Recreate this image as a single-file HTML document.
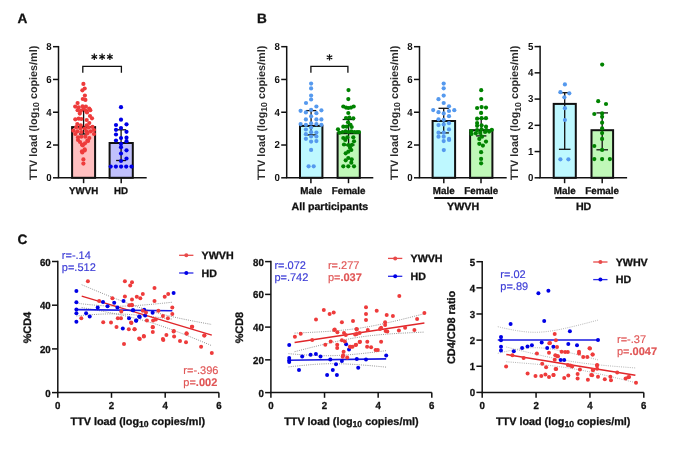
<!DOCTYPE html>
<html><head><meta charset="utf-8"><style>
html,body{margin:0;padding:0;background:#fff;}
svg{display:block;text-rendering:geometricPrecision;filter:blur(0.4px);}
</style></head><body>
<svg width="685" height="450" viewBox="0 0 685 450" font-family='"Liberation Sans", sans-serif'>
<rect width="685" height="450" fill="#fff"/>
<text x="17.4" y="23.2" font-size="13.6" font-weight="bold" text-anchor="start" fill="#111" stroke="#111" stroke-width="0.3" >A</text>
<text x="256.9" y="23.2" font-size="13.6" font-weight="bold" text-anchor="start" fill="#111" stroke="#111" stroke-width="0.3" >B</text>
<text x="17.6" y="244.2" font-size="13.6" font-weight="bold" text-anchor="start" fill="#111" stroke="#111" stroke-width="0.3" >C</text>
<line x1="58.5" y1="45.95" x2="58.5" y2="177.8" stroke="#111" stroke-width="1.5" />
<line x1="53.0" y1="177.8" x2="58.5" y2="177.8" stroke="#111" stroke-width="1.5" />
<text transform="translate(51.70,181.10) scale(0.95,1)" font-size="10.2" font-weight="bold" text-anchor="end" fill="#111">0</text>
<line x1="53.0" y1="145.02" x2="58.5" y2="145.02" stroke="#111" stroke-width="1.5" />
<text transform="translate(51.70,148.32) scale(0.95,1)" font-size="10.2" font-weight="bold" text-anchor="end" fill="#111">2</text>
<line x1="53.0" y1="112.24000000000001" x2="58.5" y2="112.24000000000001" stroke="#111" stroke-width="1.5" />
<text transform="translate(51.70,115.54) scale(0.95,1)" font-size="10.2" font-weight="bold" text-anchor="end" fill="#111">4</text>
<line x1="53.0" y1="79.46000000000001" x2="58.5" y2="79.46000000000001" stroke="#111" stroke-width="1.5" />
<text transform="translate(51.70,82.76) scale(0.95,1)" font-size="10.2" font-weight="bold" text-anchor="end" fill="#111">6</text>
<line x1="53.0" y1="46.68000000000001" x2="58.5" y2="46.68000000000001" stroke="#111" stroke-width="1.5" />
<text transform="translate(51.70,49.98) scale(0.95,1)" font-size="10.2" font-weight="bold" text-anchor="end" fill="#111">8</text>
<line x1="57.75" y1="177.8" x2="146.7" y2="177.8" stroke="#111" stroke-width="1.5" />
<line x1="83.6" y1="177.8" x2="83.6" y2="183.2" stroke="#111" stroke-width="1.5" />
<line x1="121.2" y1="177.8" x2="121.2" y2="183.2" stroke="#111" stroke-width="1.5" />
<rect x="72.1" y="127.1" width="23.0" height="50.70000000000002" fill="#ffbfc0" stroke="#111" stroke-width="2.0"/>
<rect x="109.6" y="143.0" width="23.200000000000017" height="34.80000000000001" fill="#c0c0fc" stroke="#111" stroke-width="2.0"/>
<line x1="83.6" y1="110.5" x2="83.6" y2="134" stroke="#111" stroke-width="1.3" />
<line x1="79.1" y1="110.5" x2="88.1" y2="110.5" stroke="#111" stroke-width="1.3" />
<line x1="79.1" y1="134" x2="88.1" y2="134" stroke="#111" stroke-width="1.3" />
<line x1="121.1" y1="129.8" x2="121.1" y2="160.5" stroke="#111" stroke-width="1.3" />
<line x1="116.1" y1="129.8" x2="126.1" y2="129.8" stroke="#111" stroke-width="1.3" />
<line x1="116.1" y1="160.5" x2="126.1" y2="160.5" stroke="#111" stroke-width="1.3" />
<circle cx="83.4" cy="83.9" r="2.1" fill="#ee3b3b"/>
<circle cx="84.7" cy="88.5" r="2.1" fill="#ee3b3b"/>
<circle cx="82.4" cy="90.3" r="2.1" fill="#ee3b3b"/>
<circle cx="84.9" cy="95.6" r="2.1" fill="#ee3b3b"/>
<circle cx="82.8" cy="99" r="2.1" fill="#ee3b3b"/>
<circle cx="85.4" cy="99.9" r="2.1" fill="#ee3b3b"/>
<circle cx="77.6" cy="103.1" r="2.1" fill="#ee3b3b"/>
<circle cx="75.2" cy="106.6" r="2.1" fill="#ee3b3b"/>
<circle cx="78.7" cy="107.4" r="2.1" fill="#ee3b3b"/>
<circle cx="82.6" cy="106.3" r="2.1" fill="#ee3b3b"/>
<circle cx="85.9" cy="106.7" r="2.1" fill="#ee3b3b"/>
<circle cx="89.2" cy="108.6" r="2.1" fill="#ee3b3b"/>
<circle cx="77.6" cy="110.2" r="2.1" fill="#ee3b3b"/>
<circle cx="80.9" cy="110.8" r="2.1" fill="#ee3b3b"/>
<circle cx="85.9" cy="110.8" r="2.1" fill="#ee3b3b"/>
<circle cx="90.3" cy="110.2" r="2.1" fill="#ee3b3b"/>
<circle cx="79.8" cy="113.6" r="2.1" fill="#ee3b3b"/>
<circle cx="87" cy="112.4" r="2.1" fill="#ee3b3b"/>
<circle cx="83.5" cy="108.6" r="2.1" fill="#ee3b3b"/>
<circle cx="90" cy="116" r="2.1" fill="#ee3b3b"/>
<circle cx="92" cy="118.3" r="2.1" fill="#ee3b3b"/>
<circle cx="75.3" cy="119.3" r="2.1" fill="#ee3b3b"/>
<circle cx="78.7" cy="118.7" r="2.1" fill="#ee3b3b"/>
<circle cx="81.3" cy="119" r="2.1" fill="#ee3b3b"/>
<circle cx="86.7" cy="120" r="2.1" fill="#ee3b3b"/>
<circle cx="77.3" cy="124" r="2.1" fill="#ee3b3b"/>
<circle cx="80.7" cy="125.3" r="2.1" fill="#ee3b3b"/>
<circle cx="89.3" cy="123" r="2.1" fill="#ee3b3b"/>
<circle cx="86.7" cy="125.3" r="2.1" fill="#ee3b3b"/>
<circle cx="88.7" cy="127.3" r="2.1" fill="#ee3b3b"/>
<circle cx="92.5" cy="126.8" r="2.1" fill="#ee3b3b"/>
<circle cx="76.2" cy="127.2" r="2.1" fill="#ee3b3b"/>
<circle cx="80.5" cy="128.2" r="2.1" fill="#ee3b3b"/>
<circle cx="84.8" cy="128.5" r="2.1" fill="#ee3b3b"/>
<circle cx="73.3" cy="130.7" r="2.1" fill="#ee3b3b"/>
<circle cx="77.3" cy="131.3" r="2.1" fill="#ee3b3b"/>
<circle cx="81.3" cy="132" r="2.1" fill="#ee3b3b"/>
<circle cx="86.7" cy="131.3" r="2.1" fill="#ee3b3b"/>
<circle cx="90.7" cy="131.3" r="2.1" fill="#ee3b3b"/>
<circle cx="94" cy="130" r="2.1" fill="#ee3b3b"/>
<circle cx="94" cy="134" r="2.1" fill="#ee3b3b"/>
<circle cx="75.3" cy="134" r="2.1" fill="#ee3b3b"/>
<circle cx="87.3" cy="133.3" r="2.1" fill="#ee3b3b"/>
<circle cx="78" cy="137.3" r="2.1" fill="#ee3b3b"/>
<circle cx="81.3" cy="136.7" r="2.1" fill="#ee3b3b"/>
<circle cx="85.3" cy="136.7" r="2.1" fill="#ee3b3b"/>
<circle cx="89.3" cy="138" r="2.1" fill="#ee3b3b"/>
<circle cx="78" cy="140" r="2.1" fill="#ee3b3b"/>
<circle cx="80" cy="142" r="2.1" fill="#ee3b3b"/>
<circle cx="87.3" cy="140.7" r="2.1" fill="#ee3b3b"/>
<circle cx="82" cy="144.7" r="2.1" fill="#ee3b3b"/>
<circle cx="85" cy="143.3" r="2.1" fill="#ee3b3b"/>
<circle cx="84.7" cy="149.3" r="2.1" fill="#ee3b3b"/>
<circle cx="82" cy="151.3" r="2.1" fill="#ee3b3b"/>
<circle cx="83.4" cy="163.6" r="2.1" fill="#ee3b3b"/>
<circle cx="83.4" cy="159.4" r="2.1" fill="#ee3b3b"/>
<circle cx="82.3" cy="152.4" r="2.1" fill="#ee3b3b"/>
<circle cx="84.7" cy="150.5" r="2.1" fill="#ee3b3b"/>
<circle cx="82.8" cy="145.3" r="2.1" fill="#ee3b3b"/>
<circle cx="88.1" cy="140.9" r="2.1" fill="#ee3b3b"/>
<circle cx="121" cy="107.2" r="2.1" fill="#0000e6"/>
<circle cx="121" cy="119.7" r="2.1" fill="#0000e6"/>
<circle cx="116" cy="125" r="2.1" fill="#0000e6"/>
<circle cx="126.5" cy="124.3" r="2.1" fill="#0000e6"/>
<circle cx="121" cy="128" r="2.1" fill="#0000e6"/>
<circle cx="116" cy="129.8" r="2.1" fill="#0000e6"/>
<circle cx="126.5" cy="131.8" r="2.1" fill="#0000e6"/>
<circle cx="116" cy="134.5" r="2.1" fill="#0000e6"/>
<circle cx="121" cy="138" r="2.1" fill="#0000e6"/>
<circle cx="126.5" cy="137.7" r="2.1" fill="#0000e6"/>
<circle cx="116" cy="140.5" r="2.1" fill="#0000e6"/>
<circle cx="126.5" cy="141.2" r="2.1" fill="#0000e6"/>
<circle cx="121" cy="143.8" r="2.1" fill="#0000e6"/>
<circle cx="121" cy="147.2" r="2.1" fill="#0000e6"/>
<circle cx="126.5" cy="150.3" r="2.1" fill="#0000e6"/>
<circle cx="121" cy="153.5" r="2.1" fill="#0000e6"/>
<circle cx="126.5" cy="158.5" r="2.1" fill="#0000e6"/>
<circle cx="121" cy="161" r="2.1" fill="#0000e6"/>
<circle cx="110.7" cy="166.6" r="2.1" fill="#0000e6"/>
<circle cx="115.9" cy="166.6" r="2.1" fill="#0000e6"/>
<circle cx="121.1" cy="166.6" r="2.1" fill="#0000e6"/>
<circle cx="126.2" cy="166.6" r="2.1" fill="#0000e6"/>
<circle cx="131.5" cy="166.6" r="2.1" fill="#0000e6"/>
<path d="M82.8 72.7 V66.3 H121.4 V72.7" fill="none" stroke="#111" stroke-width="1.3"/>
<path d="M94.3 53.599999999999994V60.0M91.53 55.20L97.07 58.40M91.53 58.40L97.07 55.20" stroke="#111" stroke-width="1.25"/>
<path d="M102.1 53.599999999999994V60.0M99.33 55.20L104.87 58.40M99.33 58.40L104.87 55.20" stroke="#111" stroke-width="1.25"/>
<path d="M109.9 53.599999999999994V60.0M107.13 55.20L112.67 58.40M107.13 58.40L112.67 55.20" stroke="#111" stroke-width="1.25"/>
<text x="83.6" y="194.4" font-size="9.7" font-weight="bold" text-anchor="middle" fill="#111" stroke="#111" stroke-width="0.3" >YWVH</text>
<text x="121.1" y="194.4" font-size="9.7" font-weight="bold" text-anchor="middle" fill="#111" stroke="#111" stroke-width="0.3" >HD</text>
<text transform="translate(36.5,112.9) rotate(-90)" font-size="10.8" font-weight="bold" text-anchor="middle" fill="#2b2b2b">TTV load (log<tspan font-size="8.64" dy="2.4">10</tspan><tspan dy="-2.4"> copies/ml)</tspan></text>
<line x1="286.7" y1="45.95" x2="286.7" y2="177.8" stroke="#111" stroke-width="1.5" />
<line x1="281.2" y1="177.8" x2="286.7" y2="177.8" stroke="#111" stroke-width="1.5" />
<text transform="translate(279.90,181.10) scale(0.95,1)" font-size="10.2" font-weight="bold" text-anchor="end" fill="#111">0</text>
<line x1="281.2" y1="145.02" x2="286.7" y2="145.02" stroke="#111" stroke-width="1.5" />
<text transform="translate(279.90,148.32) scale(0.95,1)" font-size="10.2" font-weight="bold" text-anchor="end" fill="#111">2</text>
<line x1="281.2" y1="112.24000000000001" x2="286.7" y2="112.24000000000001" stroke="#111" stroke-width="1.5" />
<text transform="translate(279.90,115.54) scale(0.95,1)" font-size="10.2" font-weight="bold" text-anchor="end" fill="#111">4</text>
<line x1="281.2" y1="79.46000000000001" x2="286.7" y2="79.46000000000001" stroke="#111" stroke-width="1.5" />
<text transform="translate(279.90,82.76) scale(0.95,1)" font-size="10.2" font-weight="bold" text-anchor="end" fill="#111">6</text>
<line x1="281.2" y1="46.68000000000001" x2="286.7" y2="46.68000000000001" stroke="#111" stroke-width="1.5" />
<text transform="translate(279.90,49.98) scale(0.95,1)" font-size="10.2" font-weight="bold" text-anchor="end" fill="#111">8</text>
<line x1="285.95" y1="177.8" x2="373.3" y2="177.8" stroke="#111" stroke-width="1.5" />
<line x1="310.9" y1="177.8" x2="310.9" y2="183.2" stroke="#111" stroke-width="1.5" />
<line x1="348.5" y1="177.8" x2="348.5" y2="183.2" stroke="#111" stroke-width="1.5" />
<rect x="300.0" y="125.9" width="22.399999999999977" height="51.900000000000006" fill="#bef8ff" stroke="#111" stroke-width="2.0"/>
<rect x="337.6" y="133.2" width="22.19999999999999" height="44.60000000000002" fill="#c0f8b8" stroke="#111" stroke-width="2.0"/>
<line x1="311.1" y1="110.6" x2="311.1" y2="134.9" stroke="#111" stroke-width="1.3" />
<line x1="305.90000000000003" y1="110.6" x2="316.3" y2="110.6" stroke="#111" stroke-width="1.3" />
<line x1="305.90000000000003" y1="134.9" x2="316.3" y2="134.9" stroke="#111" stroke-width="1.3" />
<line x1="348.6" y1="119.5" x2="348.6" y2="145" stroke="#111" stroke-width="1.3" />
<line x1="342.6" y1="119.5" x2="354.6" y2="119.5" stroke="#111" stroke-width="1.3" />
<line x1="342.6" y1="145" x2="354.6" y2="145" stroke="#111" stroke-width="1.3" />
<circle cx="311.1" cy="83.6" r="2.1" fill="#5599ee"/>
<circle cx="311.1" cy="88.4" r="2.1" fill="#5599ee"/>
<circle cx="311.1" cy="95.6" r="2.1" fill="#5599ee"/>
<circle cx="311.1" cy="99.5" r="2.1" fill="#5599ee"/>
<circle cx="306" cy="103" r="2.1" fill="#5599ee"/>
<circle cx="316.4" cy="106.5" r="2.1" fill="#5599ee"/>
<circle cx="300.6" cy="110.8" r="2.1" fill="#5599ee"/>
<circle cx="311.1" cy="109.8" r="2.1" fill="#5599ee"/>
<circle cx="321.4" cy="110.3" r="2.1" fill="#5599ee"/>
<circle cx="305.9" cy="112.4" r="2.1" fill="#5599ee"/>
<circle cx="316.4" cy="113.2" r="2.1" fill="#5599ee"/>
<circle cx="311.1" cy="116.3" r="2.1" fill="#5599ee"/>
<circle cx="305.9" cy="119.4" r="2.1" fill="#5599ee"/>
<circle cx="316.4" cy="119.4" r="2.1" fill="#5599ee"/>
<circle cx="321.4" cy="119.4" r="2.1" fill="#5599ee"/>
<circle cx="300.6" cy="124.1" r="2.1" fill="#5599ee"/>
<circle cx="311.1" cy="123.3" r="2.1" fill="#5599ee"/>
<circle cx="305.9" cy="124.8" r="2.1" fill="#5599ee"/>
<circle cx="316.4" cy="124.1" r="2.1" fill="#5599ee"/>
<circle cx="321.4" cy="124.8" r="2.1" fill="#5599ee"/>
<circle cx="311.1" cy="127.6" r="2.1" fill="#5599ee"/>
<circle cx="305.9" cy="129.5" r="2.1" fill="#5599ee"/>
<circle cx="311.1" cy="132.2" r="2.1" fill="#5599ee"/>
<circle cx="316.4" cy="132.6" r="2.1" fill="#5599ee"/>
<circle cx="305.9" cy="134.2" r="2.1" fill="#5599ee"/>
<circle cx="311.1" cy="136.5" r="2.1" fill="#5599ee"/>
<circle cx="316.4" cy="136.5" r="2.1" fill="#5599ee"/>
<circle cx="305.9" cy="138.8" r="2.1" fill="#5599ee"/>
<circle cx="311.1" cy="141.6" r="2.1" fill="#5599ee"/>
<circle cx="316.4" cy="141.1" r="2.1" fill="#5599ee"/>
<circle cx="311.1" cy="149.9" r="2.1" fill="#5599ee"/>
<circle cx="308.6" cy="166.3" r="2.1" fill="#5599ee"/>
<circle cx="313.7" cy="166.3" r="2.1" fill="#5599ee"/>
<circle cx="348.5" cy="90.1" r="2.1" fill="#008300"/>
<circle cx="348.3" cy="99.1" r="2.1" fill="#008300"/>
<circle cx="343.3" cy="106.5" r="2.1" fill="#008300"/>
<circle cx="346" cy="107.6" r="2.1" fill="#008300"/>
<circle cx="348.3" cy="108" r="2.1" fill="#008300"/>
<circle cx="351" cy="107.6" r="2.1" fill="#008300"/>
<circle cx="353.7" cy="106.5" r="2.1" fill="#008300"/>
<circle cx="348.3" cy="113" r="2.1" fill="#008300"/>
<circle cx="346" cy="118" r="2.1" fill="#008300"/>
<circle cx="349.3" cy="117.7" r="2.1" fill="#008300"/>
<circle cx="353.3" cy="118.3" r="2.1" fill="#008300"/>
<circle cx="348" cy="122.3" r="2.1" fill="#008300"/>
<circle cx="350.5" cy="124.8" r="2.1" fill="#008300"/>
<circle cx="343.3" cy="126.7" r="2.1" fill="#008300"/>
<circle cx="346.7" cy="126.7" r="2.1" fill="#008300"/>
<circle cx="351.7" cy="127" r="2.1" fill="#008300"/>
<circle cx="338" cy="129.3" r="2.1" fill="#008300"/>
<circle cx="339.3" cy="132.7" r="2.1" fill="#008300"/>
<circle cx="342.7" cy="132" r="2.1" fill="#008300"/>
<circle cx="345.7" cy="131.3" r="2.1" fill="#008300"/>
<circle cx="348.3" cy="132" r="2.1" fill="#008300"/>
<circle cx="351.3" cy="131.3" r="2.1" fill="#008300"/>
<circle cx="354.3" cy="132" r="2.1" fill="#008300"/>
<circle cx="357" cy="132" r="2.1" fill="#008300"/>
<circle cx="359" cy="132" r="2.1" fill="#008300"/>
<circle cx="343.3" cy="138" r="2.1" fill="#008300"/>
<circle cx="347.3" cy="137.3" r="2.1" fill="#008300"/>
<circle cx="353.3" cy="137.3" r="2.1" fill="#008300"/>
<circle cx="345.3" cy="140" r="2.1" fill="#008300"/>
<circle cx="354" cy="141.3" r="2.1" fill="#008300"/>
<circle cx="344" cy="144.5" r="2.1" fill="#008300"/>
<circle cx="348.3" cy="145" r="2.1" fill="#008300"/>
<circle cx="352" cy="144.8" r="2.1" fill="#008300"/>
<circle cx="350" cy="147.7" r="2.1" fill="#008300"/>
<circle cx="351.3" cy="150" r="2.1" fill="#008300"/>
<circle cx="348.3" cy="151.7" r="2.1" fill="#008300"/>
<circle cx="345.7" cy="153.3" r="2.1" fill="#008300"/>
<circle cx="348.3" cy="158" r="2.1" fill="#008300"/>
<circle cx="351.7" cy="159.3" r="2.1" fill="#008300"/>
<circle cx="345.7" cy="160.3" r="2.1" fill="#008300"/>
<circle cx="351.3" cy="162.7" r="2.1" fill="#008300"/>
<circle cx="343.3" cy="166.3" r="2.1" fill="#008300"/>
<circle cx="348.3" cy="166.3" r="2.1" fill="#008300"/>
<circle cx="354" cy="166.3" r="2.1" fill="#008300"/>
<path d="M310.9 72.7 V66.4 H347.9 V72.7" fill="none" stroke="#111" stroke-width="1.3"/>
<path d="M329.5 54.199999999999996V60.6M326.73 55.80L332.27 59.00M326.73 59.00L332.27 55.80" stroke="#111" stroke-width="1.25"/>
<text x="311.2" y="193.5" font-size="9.8" font-weight="bold" text-anchor="middle" fill="#111" stroke="#111" stroke-width="0.3" >Male</text>
<text x="348.6" y="193.5" font-size="9.8" font-weight="bold" text-anchor="middle" fill="#111" stroke="#111" stroke-width="0.3" >Female</text>
<text x="329.8" y="209.8" font-size="10.6" font-weight="bold" text-anchor="middle" fill="#111" stroke="#111" stroke-width="0.3" >All participants</text>
<text transform="translate(265.0,112.9) rotate(-90)" font-size="10.8" font-weight="bold" text-anchor="middle" fill="#2b2b2b">TTV load (log<tspan font-size="8.64" dy="2.4">10</tspan><tspan dy="-2.4"> copies/ml)</tspan></text>
<line x1="419.5" y1="45.95" x2="419.5" y2="177.8" stroke="#111" stroke-width="1.5" />
<line x1="414.0" y1="177.8" x2="419.5" y2="177.8" stroke="#111" stroke-width="1.5" />
<text transform="translate(412.70,181.10) scale(0.95,1)" font-size="10.2" font-weight="bold" text-anchor="end" fill="#111">0</text>
<line x1="414.0" y1="145.02" x2="419.5" y2="145.02" stroke="#111" stroke-width="1.5" />
<text transform="translate(412.70,148.32) scale(0.95,1)" font-size="10.2" font-weight="bold" text-anchor="end" fill="#111">2</text>
<line x1="414.0" y1="112.24000000000001" x2="419.5" y2="112.24000000000001" stroke="#111" stroke-width="1.5" />
<text transform="translate(412.70,115.54) scale(0.95,1)" font-size="10.2" font-weight="bold" text-anchor="end" fill="#111">4</text>
<line x1="414.0" y1="79.46000000000001" x2="419.5" y2="79.46000000000001" stroke="#111" stroke-width="1.5" />
<text transform="translate(412.70,82.76) scale(0.95,1)" font-size="10.2" font-weight="bold" text-anchor="end" fill="#111">6</text>
<line x1="414.0" y1="46.68000000000001" x2="419.5" y2="46.68000000000001" stroke="#111" stroke-width="1.5" />
<text transform="translate(412.70,49.98) scale(0.95,1)" font-size="10.2" font-weight="bold" text-anchor="end" fill="#111">8</text>
<line x1="418.75" y1="177.8" x2="506.7" y2="177.8" stroke="#111" stroke-width="1.5" />
<line x1="443.8" y1="177.8" x2="443.8" y2="183.2" stroke="#111" stroke-width="1.5" />
<line x1="481.0" y1="177.8" x2="481.0" y2="183.2" stroke="#111" stroke-width="1.5" />
<rect x="432.6" y="121.0" width="22.5" height="56.80000000000001" fill="#bef8ff" stroke="#111" stroke-width="2.0"/>
<rect x="470.1" y="130.2" width="22.299999999999955" height="47.60000000000002" fill="#c0f8b8" stroke="#111" stroke-width="2.0"/>
<line x1="443.7" y1="108.3" x2="443.7" y2="132.9" stroke="#111" stroke-width="1.3" />
<line x1="438.5" y1="108.3" x2="448.9" y2="108.3" stroke="#111" stroke-width="1.3" />
<line x1="438.5" y1="132.9" x2="448.9" y2="132.9" stroke="#111" stroke-width="1.3" />
<line x1="481.2" y1="118.6" x2="481.2" y2="135.9" stroke="#111" stroke-width="1.3" />
<line x1="476.0" y1="118.6" x2="486.4" y2="118.6" stroke="#111" stroke-width="1.3" />
<line x1="476.0" y1="135.9" x2="486.4" y2="135.9" stroke="#111" stroke-width="1.3" />
<circle cx="443.7" cy="83.6" r="2.1" fill="#5599ee"/>
<circle cx="443.7" cy="88.3" r="2.1" fill="#5599ee"/>
<circle cx="443.7" cy="95.6" r="2.1" fill="#5599ee"/>
<circle cx="438.5" cy="99.2" r="2.1" fill="#5599ee"/>
<circle cx="443.7" cy="103" r="2.1" fill="#5599ee"/>
<circle cx="449" cy="106.3" r="2.1" fill="#5599ee"/>
<circle cx="433.2" cy="110.1" r="2.1" fill="#5599ee"/>
<circle cx="438.5" cy="112.2" r="2.1" fill="#5599ee"/>
<circle cx="443.7" cy="113.4" r="2.1" fill="#5599ee"/>
<circle cx="449" cy="111" r="2.1" fill="#5599ee"/>
<circle cx="454.3" cy="110.2" r="2.1" fill="#5599ee"/>
<circle cx="449" cy="116.2" r="2.1" fill="#5599ee"/>
<circle cx="438.5" cy="119.3" r="2.1" fill="#5599ee"/>
<circle cx="443.7" cy="119.8" r="2.1" fill="#5599ee"/>
<circle cx="438.5" cy="125.1" r="2.1" fill="#5599ee"/>
<circle cx="443.7" cy="124.4" r="2.1" fill="#5599ee"/>
<circle cx="449" cy="123.2" r="2.1" fill="#5599ee"/>
<circle cx="449" cy="129.4" r="2.1" fill="#5599ee"/>
<circle cx="438.5" cy="132.7" r="2.1" fill="#5599ee"/>
<circle cx="443.7" cy="132.7" r="2.1" fill="#5599ee"/>
<circle cx="438.5" cy="136.7" r="2.1" fill="#5599ee"/>
<circle cx="443.7" cy="136.7" r="2.1" fill="#5599ee"/>
<circle cx="449" cy="138.9" r="2.1" fill="#5599ee"/>
<circle cx="443.7" cy="141.1" r="2.1" fill="#5599ee"/>
<circle cx="449.1" cy="140" r="2.1" fill="#5599ee"/>
<circle cx="443.8" cy="150.1" r="2.1" fill="#5599ee"/>
<circle cx="481.2" cy="90.2" r="2.1" fill="#008300"/>
<circle cx="481.2" cy="99" r="2.1" fill="#008300"/>
<circle cx="477.1" cy="108" r="2.1" fill="#008300"/>
<circle cx="481.6" cy="107.1" r="2.1" fill="#008300"/>
<circle cx="486" cy="107.6" r="2.1" fill="#008300"/>
<circle cx="481.1" cy="112.9" r="2.1" fill="#008300"/>
<circle cx="477.1" cy="118.7" r="2.1" fill="#008300"/>
<circle cx="481.6" cy="118.2" r="2.1" fill="#008300"/>
<circle cx="486" cy="118.2" r="2.1" fill="#008300"/>
<circle cx="477.1" cy="123.1" r="2.1" fill="#008300"/>
<circle cx="477.1" cy="125.8" r="2.1" fill="#008300"/>
<circle cx="481.6" cy="125.3" r="2.1" fill="#008300"/>
<circle cx="486" cy="126.7" r="2.1" fill="#008300"/>
<circle cx="471.3" cy="131.1" r="2.1" fill="#008300"/>
<circle cx="477.1" cy="130.2" r="2.1" fill="#008300"/>
<circle cx="481.6" cy="129.3" r="2.1" fill="#008300"/>
<circle cx="486.4" cy="130.2" r="2.1" fill="#008300"/>
<circle cx="491.8" cy="129.8" r="2.1" fill="#008300"/>
<circle cx="471.5" cy="134" r="2.1" fill="#008300"/>
<circle cx="475.8" cy="133.3" r="2.1" fill="#008300"/>
<circle cx="480.2" cy="132.9" r="2.1" fill="#008300"/>
<circle cx="485.1" cy="132" r="2.1" fill="#008300"/>
<circle cx="489.1" cy="131.6" r="2.1" fill="#008300"/>
<circle cx="482" cy="136.7" r="2.1" fill="#008300"/>
<circle cx="479.3" cy="138.9" r="2.1" fill="#008300"/>
<circle cx="486" cy="141.6" r="2.1" fill="#008300"/>
<circle cx="479.3" cy="143.8" r="2.1" fill="#008300"/>
<circle cx="482.9" cy="145.6" r="2.1" fill="#008300"/>
<circle cx="481.1" cy="152.2" r="2.1" fill="#008300"/>
<circle cx="481.1" cy="158.9" r="2.1" fill="#008300"/>
<circle cx="481.1" cy="163.3" r="2.1" fill="#008300"/>
<text x="443.7" y="193.5" font-size="9.8" font-weight="bold" text-anchor="middle" fill="#111" stroke="#111" stroke-width="0.3" >Male</text>
<text x="481.2" y="193.5" font-size="9.8" font-weight="bold" text-anchor="middle" fill="#111" stroke="#111" stroke-width="0.3" >Female</text>
<line x1="434.2" y1="198" x2="493" y2="198" stroke="#111" stroke-width="1.8" />
<text x="463.1" y="209.9" font-size="10.7" font-weight="bold" text-anchor="middle" fill="#111" stroke="#111" stroke-width="0.3" >YWVH</text>
<text transform="translate(398.0,112.9) rotate(-90)" font-size="10.8" font-weight="bold" text-anchor="middle" fill="#2b2b2b">TTV load (log<tspan font-size="8.64" dy="2.4">10</tspan><tspan dy="-2.4"> copies/ml)</tspan></text>
<line x1="540.1" y1="45.85" x2="540.1" y2="177.8" stroke="#111" stroke-width="1.5" />
<line x1="534.6" y1="177.8" x2="540.1" y2="177.8" stroke="#111" stroke-width="1.5" />
<text transform="translate(533.30,181.10) scale(0.95,1)" font-size="10.2" font-weight="bold" text-anchor="end" fill="#111">0</text>
<line x1="534.6" y1="151.56" x2="540.1" y2="151.56" stroke="#111" stroke-width="1.5" />
<text transform="translate(533.30,154.86) scale(0.95,1)" font-size="10.2" font-weight="bold" text-anchor="end" fill="#111">1</text>
<line x1="534.6" y1="125.32000000000002" x2="540.1" y2="125.32000000000002" stroke="#111" stroke-width="1.5" />
<text transform="translate(533.30,128.62) scale(0.95,1)" font-size="10.2" font-weight="bold" text-anchor="end" fill="#111">2</text>
<line x1="534.6" y1="99.08000000000001" x2="540.1" y2="99.08000000000001" stroke="#111" stroke-width="1.5" />
<text transform="translate(533.30,102.38) scale(0.95,1)" font-size="10.2" font-weight="bold" text-anchor="end" fill="#111">3</text>
<line x1="534.6" y1="72.84000000000002" x2="540.1" y2="72.84000000000002" stroke="#111" stroke-width="1.5" />
<text transform="translate(533.30,76.14) scale(0.95,1)" font-size="10.2" font-weight="bold" text-anchor="end" fill="#111">4</text>
<line x1="534.6" y1="46.60000000000002" x2="540.1" y2="46.60000000000002" stroke="#111" stroke-width="1.5" />
<text transform="translate(533.30,49.90) scale(0.95,1)" font-size="10.2" font-weight="bold" text-anchor="end" fill="#111">5</text>
<line x1="539.35" y1="177.8" x2="627.1" y2="177.8" stroke="#111" stroke-width="1.5" />
<line x1="564.6" y1="177.8" x2="564.6" y2="183.2" stroke="#111" stroke-width="1.5" />
<line x1="602.2" y1="177.8" x2="602.2" y2="183.2" stroke="#111" stroke-width="1.5" />
<rect x="553.7" y="103.9" width="22.09999999999991" height="73.9" fill="#bef8ff" stroke="#111" stroke-width="2.0"/>
<rect x="591.5" y="130.2" width="21.600000000000023" height="47.60000000000002" fill="#c0f8b8" stroke="#111" stroke-width="2.0"/>
<line x1="564.7" y1="92.7" x2="564.7" y2="149.3" stroke="#111" stroke-width="1.3" />
<line x1="558.9000000000001" y1="92.7" x2="570.5" y2="92.7" stroke="#111" stroke-width="1.3" />
<line x1="558.9000000000001" y1="149.3" x2="570.5" y2="149.3" stroke="#111" stroke-width="1.3" />
<line x1="602.2" y1="112.9" x2="602.2" y2="149.8" stroke="#111" stroke-width="1.3" />
<line x1="596.4000000000001" y1="112.9" x2="608.0" y2="112.9" stroke="#111" stroke-width="1.3" />
<line x1="596.4000000000001" y1="149.8" x2="608.0" y2="149.8" stroke="#111" stroke-width="1.3" />
<circle cx="564.9" cy="84.4" r="2.1" fill="#5599ee"/>
<circle cx="560.4" cy="92.2" r="2.1" fill="#5599ee"/>
<circle cx="569.3" cy="93.3" r="2.1" fill="#5599ee"/>
<circle cx="564.4" cy="97.3" r="2.1" fill="#5599ee"/>
<circle cx="564.9" cy="108.2" r="2.1" fill="#5599ee"/>
<circle cx="564.9" cy="120" r="2.1" fill="#5599ee"/>
<circle cx="560.4" cy="159.3" r="2.1" fill="#5599ee"/>
<circle cx="568.4" cy="159.3" r="2.1" fill="#5599ee"/>
<circle cx="602.2" cy="64.6" r="2.1" fill="#008300"/>
<circle cx="598.2" cy="101.2" r="2.1" fill="#008300"/>
<circle cx="606" cy="104" r="2.1" fill="#008300"/>
<circle cx="594.3" cy="114" r="2.1" fill="#008300"/>
<circle cx="602.1" cy="113.4" r="2.1" fill="#008300"/>
<circle cx="602.1" cy="116.8" r="2.1" fill="#008300"/>
<circle cx="602.1" cy="122.7" r="2.1" fill="#008300"/>
<circle cx="602.1" cy="128.4" r="2.1" fill="#008300"/>
<circle cx="602.1" cy="133.1" r="2.1" fill="#008300"/>
<circle cx="602.1" cy="138.9" r="2.1" fill="#008300"/>
<circle cx="594.3" cy="146" r="2.1" fill="#008300"/>
<circle cx="602.1" cy="149.9" r="2.1" fill="#008300"/>
<circle cx="594.3" cy="159.1" r="2.1" fill="#008300"/>
<circle cx="602.1" cy="159.1" r="2.1" fill="#008300"/>
<circle cx="609.9" cy="159.1" r="2.1" fill="#008300"/>
<text x="564.7" y="193.5" font-size="9.8" font-weight="bold" text-anchor="middle" fill="#111" stroke="#111" stroke-width="0.3" >Male</text>
<text x="602.1" y="193.5" font-size="9.8" font-weight="bold" text-anchor="middle" fill="#111" stroke="#111" stroke-width="0.3" >Female</text>
<line x1="555.3" y1="197.8" x2="613.4" y2="197.8" stroke="#111" stroke-width="1.8" />
<text x="583.6" y="209.9" font-size="10.7" font-weight="bold" text-anchor="middle" fill="#111" stroke="#111" stroke-width="0.3" >HD</text>
<text transform="translate(518.3,112.9) rotate(-90)" font-size="10.8" font-weight="bold" text-anchor="middle" fill="#2b2b2b">TTV load (log<tspan font-size="8.64" dy="2.4">10</tspan><tspan dy="-2.4"> copies/ml)</tspan></text>
<line x1="57.8" y1="260.75" x2="57.8" y2="397.8" stroke="#111" stroke-width="1.5" />
<line x1="52.0" y1="392.6" x2="57.8" y2="392.6" stroke="#111" stroke-width="1.5" />
<text transform="translate(50.70,396.60) scale(0.95,1)" font-size="10.2" font-weight="bold" text-anchor="end" fill="#111" stroke="#111" stroke-width="0.3">0</text>
<line x1="52.0" y1="348.9" x2="57.8" y2="348.9" stroke="#111" stroke-width="1.5" />
<text transform="translate(50.70,352.90) scale(0.95,1)" font-size="10.2" font-weight="bold" text-anchor="end" fill="#111" stroke="#111" stroke-width="0.3">20</text>
<line x1="52.0" y1="305.2" x2="57.8" y2="305.2" stroke="#111" stroke-width="1.5" />
<text transform="translate(50.70,309.20) scale(0.95,1)" font-size="10.2" font-weight="bold" text-anchor="end" fill="#111" stroke="#111" stroke-width="0.3">40</text>
<line x1="52.0" y1="261.5" x2="57.8" y2="261.5" stroke="#111" stroke-width="1.5" />
<text transform="translate(50.70,265.50) scale(0.95,1)" font-size="10.2" font-weight="bold" text-anchor="end" fill="#111" stroke="#111" stroke-width="0.3">60</text>
<line x1="57.05" y1="392.6" x2="218.9" y2="392.6" stroke="#111" stroke-width="1.5" />
<text transform="translate(57.80,409.30) scale(0.95,1)" font-size="10.2" font-weight="bold" text-anchor="middle" fill="#111" stroke="#111" stroke-width="0.3">0</text>
<line x1="111.5" y1="392.6" x2="111.5" y2="397.8" stroke="#111" stroke-width="1.5" />
<text transform="translate(111.50,409.30) scale(0.95,1)" font-size="10.2" font-weight="bold" text-anchor="middle" fill="#111" stroke="#111" stroke-width="0.3">2</text>
<line x1="165.20000000000002" y1="392.6" x2="165.20000000000002" y2="397.8" stroke="#111" stroke-width="1.5" />
<text transform="translate(165.20,409.30) scale(0.95,1)" font-size="10.2" font-weight="bold" text-anchor="middle" fill="#111" stroke="#111" stroke-width="0.3">4</text>
<line x1="218.90000000000003" y1="392.6" x2="218.90000000000003" y2="397.8" stroke="#111" stroke-width="1.5" />
<text transform="translate(218.90,409.30) scale(0.95,1)" font-size="10.2" font-weight="bold" text-anchor="middle" fill="#111" stroke="#111" stroke-width="0.3">6</text>
<polyline points="81.70,284.70 84.95,286.08 88.20,287.45 91.46,288.81 94.71,290.17 97.96,291.52 101.22,292.87 104.47,294.20 107.72,295.52 110.97,296.83 114.23,298.13 117.48,299.41 120.73,300.67 123.98,301.91 127.24,303.13 130.49,304.32 133.74,305.49 136.99,306.63 140.25,307.73 143.50,308.80 146.75,309.83 150.00,310.82 153.26,311.78 156.51,312.70 159.76,313.58 163.01,314.43 166.27,315.24 169.52,316.02 172.77,316.78 176.02,317.51 179.28,318.22 182.53,318.91 185.78,319.58 189.03,320.23 192.29,320.87 195.54,321.50 198.79,322.12 202.04,322.72 205.30,323.32 208.55,323.91 211.80,324.50" fill="none" stroke="#888" stroke-width="0.9" stroke-dasharray="1 1.2"/>
<polyline points="81.70,307.50 84.95,308.07 88.20,308.65 91.46,309.24 94.71,309.83 97.96,310.43 101.22,311.03 104.47,311.65 107.72,312.28 110.97,312.92 114.23,313.57 117.48,314.24 120.73,314.93 123.98,315.64 127.24,316.37 130.49,317.13 133.74,317.91 136.99,318.72 140.25,319.57 143.50,320.45 146.75,321.37 150.00,322.33 153.26,323.32 156.51,324.35 159.76,325.42 163.01,326.52 166.27,327.66 169.52,328.83 172.77,330.02 176.02,331.24 179.28,332.48 182.53,333.74 185.78,335.02 189.03,336.32 192.29,337.63 195.54,338.95 198.79,340.28 202.04,341.63 205.30,342.98 208.55,344.34 211.80,345.70" fill="none" stroke="#888" stroke-width="0.9" stroke-dasharray="1 1.2"/>
<polyline points="76.40,303.23 78.80,303.51 81.20,303.77 83.59,304.04 85.99,304.29 88.39,304.53 90.79,304.77 93.18,304.99 95.58,305.20 97.98,305.39 100.38,305.57 102.77,305.73 105.17,305.87 107.57,305.99 109.97,306.08 112.36,306.15 114.76,306.19 117.16,306.21 119.56,306.20 121.95,306.17 124.35,306.11 126.75,306.03 129.15,305.93 131.54,305.81 133.94,305.67 136.34,305.52 138.74,305.36 141.13,305.18 143.53,304.99 145.93,304.80 148.32,304.59 150.72,304.38 153.12,304.16 155.52,303.93 157.92,303.70 160.31,303.47 162.71,303.23 165.11,302.99 167.50,302.74 169.90,302.49 172.30,302.24" fill="none" stroke="#888" stroke-width="0.9" stroke-dasharray="1 1.2"/>
<polyline points="76.40,315.97 78.80,315.75 81.20,315.54 83.59,315.33 85.99,315.13 88.39,314.94 90.79,314.76 93.18,314.59 95.58,314.44 97.98,314.30 100.38,314.18 102.77,314.07 105.17,313.99 107.57,313.93 109.97,313.89 112.36,313.88 114.76,313.89 117.16,313.93 119.56,313.99 121.95,314.08 124.35,314.19 126.75,314.33 129.15,314.48 131.54,314.65 133.94,314.85 136.34,315.05 138.74,315.27 141.13,315.50 143.53,315.75 145.93,316.00 148.32,316.26 150.72,316.53 153.12,316.80 155.52,317.08 157.92,317.37 160.31,317.66 162.71,317.95 165.11,318.25 167.50,318.55 169.90,318.85 172.30,319.16" fill="none" stroke="#888" stroke-width="0.9" stroke-dasharray="1 1.2"/>
<line x1="81.7" y1="296.1" x2="211.8" y2="335.1" stroke="#e0262a" stroke-width="1.5" />
<line x1="76.4" y1="309.6" x2="172.3" y2="310.7" stroke="#1818e0" stroke-width="1.6" />
<circle cx="76.4" cy="291.1" r="2.0" fill="#0000e6"/>
<circle cx="76.4" cy="302.3" r="2.0" fill="#0000e6"/>
<circle cx="76.4" cy="309.4" r="2.0" fill="#0000e6"/>
<circle cx="76.4" cy="313.3" r="2.0" fill="#0000e6"/>
<circle cx="76.4" cy="321.7" r="2.0" fill="#0000e6"/>
<circle cx="86.1" cy="313.3" r="2.0" fill="#0000e6"/>
<circle cx="89.7" cy="316.5" r="2.0" fill="#0000e6"/>
<circle cx="97.7" cy="307.6" r="2.0" fill="#0000e6"/>
<circle cx="103" cy="302.1" r="2.0" fill="#0000e6"/>
<circle cx="107.5" cy="306.2" r="2.0" fill="#0000e6"/>
<circle cx="114.2" cy="302.7" r="2.0" fill="#0000e6"/>
<circle cx="117.4" cy="307.6" r="2.0" fill="#0000e6"/>
<circle cx="123.5" cy="300.9" r="2.0" fill="#0000e6"/>
<circle cx="132.9" cy="310.3" r="2.0" fill="#0000e6"/>
<circle cx="129" cy="318.3" r="2.0" fill="#0000e6"/>
<circle cx="136.1" cy="320.8" r="2.0" fill="#0000e6"/>
<circle cx="139.1" cy="316.5" r="2.0" fill="#0000e6"/>
<circle cx="122.8" cy="328.4" r="2.0" fill="#0000e6"/>
<circle cx="173.6" cy="292.9" r="2.0" fill="#0000e6"/>
<circle cx="133.2" cy="310.3" r="2.0" fill="#0000e6"/>
<circle cx="144.2" cy="309.8" r="2.0" fill="#0000e6"/>
<circle cx="152.6" cy="312.8" r="2.0" fill="#0000e6"/>
<circle cx="139.8" cy="316.9" r="2.0" fill="#0000e6"/>
<circle cx="145.1" cy="315.6" r="2.0" fill="#0000e6"/>
<circle cx="136.2" cy="320.4" r="2.0" fill="#0000e6"/>
<circle cx="87.9" cy="281.3" r="2.0" fill="#ee3b3b"/>
<circle cx="124.9" cy="281.3" r="2.0" fill="#ee3b3b"/>
<circle cx="132" cy="282.2" r="2.0" fill="#ee3b3b"/>
<circle cx="130.2" cy="285.4" r="2.0" fill="#ee3b3b"/>
<circle cx="112.4" cy="298.2" r="2.0" fill="#ee3b3b"/>
<circle cx="99.1" cy="300.9" r="2.0" fill="#ee3b3b"/>
<circle cx="124.9" cy="296.4" r="2.0" fill="#ee3b3b"/>
<circle cx="132" cy="299.5" r="2.0" fill="#ee3b3b"/>
<circle cx="136.8" cy="296.8" r="2.0" fill="#ee3b3b"/>
<circle cx="129.3" cy="305.3" r="2.0" fill="#ee3b3b"/>
<circle cx="132" cy="305.3" r="2.0" fill="#ee3b3b"/>
<circle cx="121.3" cy="311.6" r="2.0" fill="#ee3b3b"/>
<circle cx="81.3" cy="318.3" r="2.0" fill="#ee3b3b"/>
<circle cx="117.8" cy="318.3" r="2.0" fill="#ee3b3b"/>
<circle cx="121" cy="318.3" r="2.0" fill="#ee3b3b"/>
<circle cx="103.2" cy="322.2" r="2.0" fill="#ee3b3b"/>
<circle cx="111" cy="322.6" r="2.0" fill="#ee3b3b"/>
<circle cx="116.5" cy="327" r="2.0" fill="#ee3b3b"/>
<circle cx="131.1" cy="322.6" r="2.0" fill="#ee3b3b"/>
<circle cx="128.8" cy="329.3" r="2.0" fill="#ee3b3b"/>
<circle cx="134.7" cy="329.3" r="2.0" fill="#ee3b3b"/>
<circle cx="139.1" cy="338.6" r="2.0" fill="#ee3b3b"/>
<circle cx="154.5" cy="287.9" r="2.0" fill="#ee3b3b"/>
<circle cx="140.3" cy="298.2" r="2.0" fill="#ee3b3b"/>
<circle cx="142.8" cy="294.1" r="2.0" fill="#ee3b3b"/>
<circle cx="164.7" cy="296.8" r="2.0" fill="#ee3b3b"/>
<circle cx="168.2" cy="294.1" r="2.0" fill="#ee3b3b"/>
<circle cx="154.5" cy="300.9" r="2.0" fill="#ee3b3b"/>
<circle cx="131.8" cy="304.8" r="2.0" fill="#ee3b3b"/>
<circle cx="172.3" cy="307.6" r="2.0" fill="#ee3b3b"/>
<circle cx="142.8" cy="310.7" r="2.0" fill="#ee3b3b"/>
<circle cx="146" cy="312.4" r="2.0" fill="#ee3b3b"/>
<circle cx="158.4" cy="310.7" r="2.0" fill="#ee3b3b"/>
<circle cx="172.3" cy="313.9" r="2.0" fill="#ee3b3b"/>
<circle cx="162.9" cy="316" r="2.0" fill="#ee3b3b"/>
<circle cx="167.9" cy="318.3" r="2.0" fill="#ee3b3b"/>
<circle cx="146.9" cy="320.4" r="2.0" fill="#ee3b3b"/>
<circle cx="153.1" cy="320.4" r="2.0" fill="#ee3b3b"/>
<circle cx="155.8" cy="319.6" r="2.0" fill="#ee3b3b"/>
<circle cx="131.4" cy="323.1" r="2.0" fill="#ee3b3b"/>
<circle cx="152.8" cy="327.2" r="2.0" fill="#ee3b3b"/>
<circle cx="191.9" cy="326.7" r="2.0" fill="#ee3b3b"/>
<circle cx="134.4" cy="329.3" r="2.0" fill="#ee3b3b"/>
<circle cx="152.8" cy="332" r="2.0" fill="#ee3b3b"/>
<circle cx="173.6" cy="331.5" r="2.0" fill="#ee3b3b"/>
<circle cx="186.5" cy="333.2" r="2.0" fill="#ee3b3b"/>
<circle cx="166.4" cy="335" r="2.0" fill="#ee3b3b"/>
<circle cx="174.1" cy="336.4" r="2.0" fill="#ee3b3b"/>
<circle cx="143.9" cy="336.4" r="2.0" fill="#ee3b3b"/>
<circle cx="204.3" cy="335.6" r="2.0" fill="#ee3b3b"/>
<circle cx="139.8" cy="339.1" r="2.0" fill="#ee3b3b"/>
<circle cx="162.9" cy="339.1" r="2.0" fill="#ee3b3b"/>
<circle cx="124" cy="344" r="2.0" fill="#ee3b3b"/>
<circle cx="152.7" cy="327.1" r="2.0" fill="#ee3b3b"/>
<circle cx="143.8" cy="336" r="2.0" fill="#ee3b3b"/>
<circle cx="163.3" cy="340" r="2.0" fill="#ee3b3b"/>
<circle cx="173.8" cy="331.1" r="2.0" fill="#ee3b3b"/>
<circle cx="180" cy="341.1" r="2.0" fill="#ee3b3b"/>
<circle cx="186" cy="342.2" r="2.0" fill="#ee3b3b"/>
<circle cx="186.7" cy="333.8" r="2.0" fill="#ee3b3b"/>
<circle cx="192.2" cy="326.7" r="2.0" fill="#ee3b3b"/>
<circle cx="204.4" cy="335.6" r="2.0" fill="#ee3b3b"/>
<circle cx="201.1" cy="346.7" r="2.0" fill="#ee3b3b"/>
<circle cx="211.8" cy="352.9" r="2.0" fill="#ee3b3b"/>
<line x1="179.1" y1="255.3" x2="193.4" y2="255.3" stroke="#e84a4a" stroke-width="1.3" />
<circle cx="186.29999999999998" cy="255.3" r="2.0" fill="#e84a4a"/>
<line x1="179.1" y1="273.0" x2="193.4" y2="273.0" stroke="#2a2ae6" stroke-width="1.3" />
<circle cx="186.29999999999998" cy="273.0" r="2.0" fill="#0000e6"/>
<text x="201.6" y="259.1" font-size="10.7" font-weight="bold" text-anchor="start" fill="#111" stroke="#111" stroke-width="0.3" >YWVH</text>
<text x="201.6" y="276.8" font-size="10.7" font-weight="bold" text-anchor="start" fill="#111" stroke="#111" stroke-width="0.3" >HD</text>
<text x="61.8" y="259.4" font-size="11" font-weight="normal" text-anchor="start" fill="#3b3bd6" stroke="#3b3bd6" stroke-width="0.15" >r=-.14</text>
<text x="61.8" y="271.4" font-size="11" font-weight="normal" text-anchor="start" fill="#3b3bd6" stroke="#3b3bd6" stroke-width="0.15" >p=.512</text>
<text x="183.3" y="373.7" font-size="11" font-weight="normal" text-anchor="start" fill="#e05555" stroke="#e05555" stroke-width="0.15" >r=-.396</text>
<text x="183.3" y="385.6" font-size="11" font-weight="normal" text-anchor="start" fill="#e05555" stroke="#e05555" stroke-width="0.15" >p=<tspan font-weight="bold">.002</tspan></text>
<text transform="translate(30.7,327.6) rotate(-90)" font-size="10.9" font-weight="bold" text-anchor="middle" fill="#111" stroke="#111" stroke-width="0.3">%CD4</text>
<text x="137.8" y="424.6" font-size="10.8" font-weight="bold" text-anchor="middle" fill="#111" stroke="#111" stroke-width="0.3">TTV load (log<tspan font-size="8.64" dy="2.4">10</tspan><tspan dy="-2.4"> copies/ml)</tspan></text>
<line x1="270.9" y1="260.85" x2="270.9" y2="397.8" stroke="#111" stroke-width="1.5" />
<line x1="265.09999999999997" y1="392.6" x2="270.9" y2="392.6" stroke="#111" stroke-width="1.5" />
<text transform="translate(263.80,396.60) scale(0.95,1)" font-size="10.2" font-weight="bold" text-anchor="end" fill="#111" stroke="#111" stroke-width="0.3">0</text>
<line x1="265.09999999999997" y1="359.85" x2="270.9" y2="359.85" stroke="#111" stroke-width="1.5" />
<text transform="translate(263.80,363.85) scale(0.95,1)" font-size="10.2" font-weight="bold" text-anchor="end" fill="#111" stroke="#111" stroke-width="0.3">20</text>
<line x1="265.09999999999997" y1="327.1" x2="270.9" y2="327.1" stroke="#111" stroke-width="1.5" />
<text transform="translate(263.80,331.10) scale(0.95,1)" font-size="10.2" font-weight="bold" text-anchor="end" fill="#111" stroke="#111" stroke-width="0.3">40</text>
<line x1="265.09999999999997" y1="294.4" x2="270.9" y2="294.4" stroke="#111" stroke-width="1.5" />
<text transform="translate(263.80,298.40) scale(0.95,1)" font-size="10.2" font-weight="bold" text-anchor="end" fill="#111" stroke="#111" stroke-width="0.3">60</text>
<line x1="265.09999999999997" y1="261.6" x2="270.9" y2="261.6" stroke="#111" stroke-width="1.5" />
<text transform="translate(263.80,265.60) scale(0.95,1)" font-size="10.2" font-weight="bold" text-anchor="end" fill="#111" stroke="#111" stroke-width="0.3">80</text>
<line x1="270.15" y1="392.6" x2="431.8" y2="392.6" stroke="#111" stroke-width="1.5" />
<text transform="translate(270.90,409.30) scale(0.95,1)" font-size="10.2" font-weight="bold" text-anchor="middle" fill="#111" stroke="#111" stroke-width="0.3">0</text>
<line x1="324.5333333333333" y1="392.6" x2="324.5333333333333" y2="397.8" stroke="#111" stroke-width="1.5" />
<text transform="translate(324.53,409.30) scale(0.95,1)" font-size="10.2" font-weight="bold" text-anchor="middle" fill="#111" stroke="#111" stroke-width="0.3">2</text>
<line x1="378.1666666666667" y1="392.6" x2="378.1666666666667" y2="397.8" stroke="#111" stroke-width="1.5" />
<text transform="translate(378.17,409.30) scale(0.95,1)" font-size="10.2" font-weight="bold" text-anchor="middle" fill="#111" stroke="#111" stroke-width="0.3">4</text>
<line x1="431.8" y1="392.6" x2="431.8" y2="397.8" stroke="#111" stroke-width="1.5" />
<text transform="translate(431.80,409.30) scale(0.95,1)" font-size="10.2" font-weight="bold" text-anchor="middle" fill="#111" stroke="#111" stroke-width="0.3">6</text>
<polyline points="294.60,333.09 297.85,332.96 301.09,332.82 304.34,332.67 307.58,332.52 310.83,332.36 314.07,332.20 317.31,332.02 320.56,331.84 323.81,331.64 327.05,331.43 330.30,331.21 333.54,330.97 336.79,330.71 340.03,330.43 343.27,330.13 346.52,329.80 349.76,329.44 353.01,329.04 356.25,328.61 359.50,328.15 362.75,327.65 365.99,327.11 369.24,326.54 372.48,325.94 375.73,325.30 378.97,324.64 382.21,323.95 385.46,323.24 388.70,322.51 391.95,321.77 395.19,321.00 398.44,320.23 401.69,319.44 404.93,318.64 408.17,317.84 411.42,317.02 414.66,316.20 417.91,315.37 421.15,314.54 424.40,313.70" fill="none" stroke="#888" stroke-width="0.9" stroke-dasharray="1 1.2"/>
<polyline points="294.60,351.71 297.85,350.87 301.09,350.03 304.34,349.20 307.58,348.38 310.83,347.56 314.07,346.75 317.31,345.95 320.56,345.16 323.81,344.38 327.05,343.62 330.30,342.86 333.54,342.13 336.79,341.41 340.03,340.72 343.27,340.05 346.52,339.40 349.76,338.79 353.01,338.21 356.25,337.66 359.50,337.15 362.75,336.68 365.99,336.24 369.24,335.83 372.48,335.46 375.73,335.12 378.97,334.81 382.21,334.52 385.46,334.26 388.70,334.01 391.95,333.78 395.19,333.57 398.44,333.37 401.69,333.18 404.93,333.01 408.17,332.84 411.42,332.68 414.66,332.53 417.91,332.38 421.15,332.24 424.40,332.10" fill="none" stroke="#888" stroke-width="0.9" stroke-dasharray="1 1.2"/>
<polyline points="288.50,353.65 290.94,353.86 293.38,354.07 295.83,354.27 298.27,354.46 300.71,354.64 303.15,354.82 305.60,354.98 308.04,355.13 310.48,355.27 312.93,355.39 315.37,355.50 317.81,355.59 320.25,355.65 322.69,355.70 325.14,355.73 327.58,355.73 330.02,355.70 332.46,355.66 334.91,355.59 337.35,355.49 339.79,355.37 342.24,355.23 344.68,355.08 347.12,354.90 349.56,354.71 352.00,354.50 354.45,354.28 356.89,354.04 359.33,353.80 361.77,353.54 364.22,353.28 366.66,353.01 369.10,352.74 371.54,352.45 373.99,352.17 376.43,351.87 378.87,351.58 381.31,351.28 383.76,350.97 386.20,350.67" fill="none" stroke="#888" stroke-width="0.9" stroke-dasharray="1 1.2"/>
<polyline points="288.50,366.95 290.94,366.67 293.38,366.39 295.83,366.12 298.27,365.86 300.71,365.61 303.15,365.36 305.60,365.13 308.04,364.91 310.48,364.70 312.93,364.51 315.37,364.33 317.81,364.17 320.25,364.04 322.69,363.92 325.14,363.82 327.58,363.75 330.02,363.71 332.46,363.68 334.91,363.68 337.35,363.71 339.79,363.76 342.24,363.83 344.68,363.91 347.12,364.02 349.56,364.14 352.00,364.28 354.45,364.43 356.89,364.60 359.33,364.77 361.77,364.96 364.22,365.15 366.66,365.35 369.10,365.55 371.54,365.77 373.99,365.98 376.43,366.21 378.87,366.43 381.31,366.66 383.76,366.90 386.20,367.13" fill="none" stroke="#888" stroke-width="0.9" stroke-dasharray="1 1.2"/>
<line x1="294.6" y1="342.4" x2="424.4" y2="322.9" stroke="#e0262a" stroke-width="1.5" />
<line x1="288" y1="360.3" x2="386.2" y2="358.9" stroke="#1818e0" stroke-width="1.6" />
<circle cx="289.2" cy="345" r="2.0" fill="#0000e6"/>
<circle cx="289.2" cy="358" r="2.0" fill="#0000e6"/>
<circle cx="289.2" cy="360.3" r="2.0" fill="#0000e6"/>
<circle cx="289.2" cy="362.1" r="2.0" fill="#0000e6"/>
<circle cx="302.2" cy="356.6" r="2.0" fill="#0000e6"/>
<circle cx="310.6" cy="354.8" r="2.0" fill="#0000e6"/>
<circle cx="315.9" cy="353.9" r="2.0" fill="#0000e6"/>
<circle cx="320.5" cy="356.6" r="2.0" fill="#0000e6"/>
<circle cx="330.3" cy="359.4" r="2.0" fill="#0000e6"/>
<circle cx="336" cy="364.2" r="2.0" fill="#0000e6"/>
<circle cx="341.9" cy="361" r="2.0" fill="#0000e6"/>
<circle cx="346.1" cy="344.3" r="2.0" fill="#0000e6"/>
<circle cx="349" cy="349.5" r="2.0" fill="#0000e6"/>
<circle cx="356.8" cy="358.9" r="2.0" fill="#0000e6"/>
<circle cx="358.2" cy="367.8" r="2.0" fill="#0000e6"/>
<circle cx="299" cy="369.9" r="2.0" fill="#0000e6"/>
<circle cx="327.1" cy="374.9" r="2.0" fill="#0000e6"/>
<circle cx="332.8" cy="370.1" r="2.0" fill="#0000e6"/>
<circle cx="336.9" cy="374.9" r="2.0" fill="#0000e6"/>
<circle cx="366" cy="359.6" r="2.0" fill="#0000e6"/>
<circle cx="386.2" cy="355.6" r="2.0" fill="#0000e6"/>
<circle cx="316" cy="319.6" r="2.0" fill="#ee3b3b"/>
<circle cx="294.9" cy="336.7" r="2.0" fill="#ee3b3b"/>
<circle cx="300.7" cy="333.8" r="2.0" fill="#ee3b3b"/>
<circle cx="312.2" cy="340" r="2.0" fill="#ee3b3b"/>
<circle cx="323.8" cy="310" r="2.0" fill="#ee3b3b"/>
<circle cx="329.6" cy="313.9" r="2.0" fill="#ee3b3b"/>
<circle cx="333.7" cy="312.5" r="2.0" fill="#ee3b3b"/>
<circle cx="341.9" cy="322.3" r="2.0" fill="#ee3b3b"/>
<circle cx="353" cy="321.1" r="2.0" fill="#ee3b3b"/>
<circle cx="334.7" cy="329.6" r="2.0" fill="#ee3b3b"/>
<circle cx="356.5" cy="329" r="2.0" fill="#ee3b3b"/>
<circle cx="334.2" cy="330.1" r="2.0" fill="#ee3b3b"/>
<circle cx="337.4" cy="332.2" r="2.0" fill="#ee3b3b"/>
<circle cx="344" cy="333.1" r="2.0" fill="#ee3b3b"/>
<circle cx="345.8" cy="334.9" r="2.0" fill="#ee3b3b"/>
<circle cx="341.9" cy="340.2" r="2.0" fill="#ee3b3b"/>
<circle cx="344.9" cy="341.6" r="2.0" fill="#ee3b3b"/>
<circle cx="325.3" cy="344.7" r="2.0" fill="#ee3b3b"/>
<circle cx="330.7" cy="341.6" r="2.0" fill="#ee3b3b"/>
<circle cx="337.2" cy="344.7" r="2.0" fill="#ee3b3b"/>
<circle cx="337.2" cy="347.9" r="2.0" fill="#ee3b3b"/>
<circle cx="343.6" cy="351.8" r="2.0" fill="#ee3b3b"/>
<circle cx="343.1" cy="355.3" r="2.0" fill="#ee3b3b"/>
<circle cx="342.7" cy="356.8" r="2.0" fill="#ee3b3b"/>
<circle cx="347.2" cy="357.6" r="2.0" fill="#ee3b3b"/>
<circle cx="349.9" cy="346.8" r="2.0" fill="#ee3b3b"/>
<circle cx="352.5" cy="346.8" r="2.0" fill="#ee3b3b"/>
<circle cx="356.1" cy="344.7" r="2.0" fill="#ee3b3b"/>
<circle cx="356.8" cy="334" r="2.0" fill="#ee3b3b"/>
<circle cx="359.6" cy="342" r="2.0" fill="#ee3b3b"/>
<circle cx="399.3" cy="296" r="2.0" fill="#ee3b3b"/>
<circle cx="366" cy="307.3" r="2.0" fill="#ee3b3b"/>
<circle cx="376.7" cy="310.7" r="2.0" fill="#ee3b3b"/>
<circle cx="366" cy="314" r="2.0" fill="#ee3b3b"/>
<circle cx="386.7" cy="314.9" r="2.0" fill="#ee3b3b"/>
<circle cx="392.9" cy="316" r="2.0" fill="#ee3b3b"/>
<circle cx="366" cy="320" r="2.0" fill="#ee3b3b"/>
<circle cx="424.4" cy="312.9" r="2.0" fill="#ee3b3b"/>
<circle cx="417.1" cy="318.9" r="2.0" fill="#ee3b3b"/>
<circle cx="385.1" cy="322.2" r="2.0" fill="#ee3b3b"/>
<circle cx="385.1" cy="325.1" r="2.0" fill="#ee3b3b"/>
<circle cx="356.7" cy="329.6" r="2.0" fill="#ee3b3b"/>
<circle cx="367.8" cy="330" r="2.0" fill="#ee3b3b"/>
<circle cx="380" cy="328.9" r="2.0" fill="#ee3b3b"/>
<circle cx="381.1" cy="327.8" r="2.0" fill="#ee3b3b"/>
<circle cx="385.6" cy="331.1" r="2.0" fill="#ee3b3b"/>
<circle cx="387.3" cy="331.6" r="2.0" fill="#ee3b3b"/>
<circle cx="398.9" cy="330.4" r="2.0" fill="#ee3b3b"/>
<circle cx="405.1" cy="327.8" r="2.0" fill="#ee3b3b"/>
<circle cx="414.4" cy="330" r="2.0" fill="#ee3b3b"/>
<circle cx="355.1" cy="334.4" r="2.0" fill="#ee3b3b"/>
<circle cx="359.6" cy="332.9" r="2.0" fill="#ee3b3b"/>
<circle cx="360" cy="341.8" r="2.0" fill="#ee3b3b"/>
<circle cx="367.3" cy="341.8" r="2.0" fill="#ee3b3b"/>
<circle cx="381.1" cy="341.8" r="2.0" fill="#ee3b3b"/>
<circle cx="350.7" cy="346.7" r="2.0" fill="#ee3b3b"/>
<circle cx="355.6" cy="345.1" r="2.0" fill="#ee3b3b"/>
<circle cx="367.1" cy="346.7" r="2.0" fill="#ee3b3b"/>
<circle cx="371.1" cy="347.3" r="2.0" fill="#ee3b3b"/>
<circle cx="375.6" cy="350" r="2.0" fill="#ee3b3b"/>
<circle cx="377.8" cy="350" r="2.0" fill="#ee3b3b"/>
<line x1="388.0" y1="258.4" x2="402.3" y2="258.4" stroke="#e84a4a" stroke-width="1.3" />
<circle cx="395.2" cy="258.4" r="2.0" fill="#e84a4a"/>
<line x1="388.0" y1="276.3" x2="402.3" y2="276.3" stroke="#2a2ae6" stroke-width="1.3" />
<circle cx="395.2" cy="276.3" r="2.0" fill="#0000e6"/>
<text x="410.5" y="262.2" font-size="10.7" font-weight="bold" text-anchor="start" fill="#111" stroke="#111" stroke-width="0.3" >YWVH</text>
<text x="410.5" y="280.1" font-size="10.7" font-weight="bold" text-anchor="start" fill="#111" stroke="#111" stroke-width="0.3" >HD</text>
<text x="274.4" y="269.1" font-size="11" font-weight="normal" text-anchor="start" fill="#3b3bd6" stroke="#3b3bd6" stroke-width="0.15" >r=.072</text>
<text x="274.4" y="281.3" font-size="11" font-weight="normal" text-anchor="start" fill="#3b3bd6" stroke="#3b3bd6" stroke-width="0.15" >p=.742</text>
<text x="327.9" y="269.1" font-size="11" font-weight="normal" text-anchor="start" fill="#e05555" stroke="#e05555" stroke-width="0.15" >r=.277</text>
<text x="327.9" y="281.3" font-size="11" font-weight="normal" text-anchor="start" fill="#e05555" stroke="#e05555" stroke-width="0.15" >p=<tspan font-weight="bold">.037</tspan></text>
<text transform="translate(243.0,327.6) rotate(-90)" font-size="10.9" font-weight="bold" text-anchor="middle" fill="#111" stroke="#111" stroke-width="0.3">%CD8</text>
<text x="351.4" y="424.6" font-size="10.8" font-weight="bold" text-anchor="middle" fill="#111" stroke="#111" stroke-width="0.3">TTV load (log<tspan font-size="8.64" dy="2.4">10</tspan><tspan dy="-2.4"> copies/ml)</tspan></text>
<line x1="482.2" y1="260.95" x2="482.2" y2="397.8" stroke="#111" stroke-width="1.5" />
<line x1="476.4" y1="392.4" x2="482.2" y2="392.4" stroke="#111" stroke-width="1.5" />
<text transform="translate(475.10,396.40) scale(0.95,1)" font-size="10.2" font-weight="bold" text-anchor="end" fill="#111" stroke="#111" stroke-width="0.3">0</text>
<line x1="476.4" y1="366.26" x2="482.2" y2="366.26" stroke="#111" stroke-width="1.5" />
<text transform="translate(475.10,370.26) scale(0.95,1)" font-size="10.2" font-weight="bold" text-anchor="end" fill="#111" stroke="#111" stroke-width="0.3">1</text>
<line x1="476.4" y1="340.12" x2="482.2" y2="340.12" stroke="#111" stroke-width="1.5" />
<text transform="translate(475.10,344.12) scale(0.95,1)" font-size="10.2" font-weight="bold" text-anchor="end" fill="#111" stroke="#111" stroke-width="0.3">2</text>
<line x1="476.4" y1="313.97999999999996" x2="482.2" y2="313.97999999999996" stroke="#111" stroke-width="1.5" />
<text transform="translate(475.10,317.98) scale(0.95,1)" font-size="10.2" font-weight="bold" text-anchor="end" fill="#111" stroke="#111" stroke-width="0.3">3</text>
<line x1="476.4" y1="287.84" x2="482.2" y2="287.84" stroke="#111" stroke-width="1.5" />
<text transform="translate(475.10,291.84) scale(0.95,1)" font-size="10.2" font-weight="bold" text-anchor="end" fill="#111" stroke="#111" stroke-width="0.3">4</text>
<line x1="476.4" y1="261.7" x2="482.2" y2="261.7" stroke="#111" stroke-width="1.5" />
<text transform="translate(475.10,265.70) scale(0.95,1)" font-size="10.2" font-weight="bold" text-anchor="end" fill="#111" stroke="#111" stroke-width="0.3">5</text>
<line x1="481.45" y1="392.6" x2="643.8" y2="392.6" stroke="#111" stroke-width="1.5" />
<text transform="translate(482.20,409.30) scale(0.95,1)" font-size="10.2" font-weight="bold" text-anchor="middle" fill="#111" stroke="#111" stroke-width="0.3">0</text>
<line x1="536.0666666666666" y1="392.6" x2="536.0666666666666" y2="397.8" stroke="#111" stroke-width="1.5" />
<text transform="translate(536.07,409.30) scale(0.95,1)" font-size="10.2" font-weight="bold" text-anchor="middle" fill="#111" stroke="#111" stroke-width="0.3">2</text>
<line x1="589.9333333333333" y1="392.6" x2="589.9333333333333" y2="397.8" stroke="#111" stroke-width="1.5" />
<text transform="translate(589.93,409.30) scale(0.95,1)" font-size="10.2" font-weight="bold" text-anchor="middle" fill="#111" stroke="#111" stroke-width="0.3">4</text>
<line x1="643.8" y1="392.6" x2="643.8" y2="397.8" stroke="#111" stroke-width="1.5" />
<text transform="translate(643.80,409.30) scale(0.95,1)" font-size="10.2" font-weight="bold" text-anchor="middle" fill="#111" stroke="#111" stroke-width="0.3">6</text>
<polyline points="497.80,326.70 500.31,327.29 502.81,327.86 505.31,328.42 507.82,328.95 510.32,329.46 512.83,329.95 515.34,330.40 517.84,330.82 520.35,331.19 522.85,331.52 525.36,331.80 527.86,332.02 530.37,332.18 532.87,332.27 535.38,332.30 537.88,332.25 540.38,332.14 542.89,331.96 545.39,331.73 547.90,331.43 550.40,331.09 552.91,330.70 555.41,330.27 557.92,329.80 560.42,329.31 562.93,328.79 565.43,328.25 567.94,327.69 570.45,327.11 572.95,326.52 575.46,325.91 577.96,325.30 580.47,324.67 582.97,324.03 585.48,323.39 587.98,322.74 590.49,322.08 592.99,321.42 595.50,320.76 598.00,320.08" fill="none" stroke="#aaa" stroke-width="0.9" stroke-dasharray="1 1.2"/>
<polyline points="497.80,353.30 500.31,352.71 502.81,352.14 505.31,351.58 507.82,351.05 510.32,350.54 512.83,350.05 515.34,349.60 517.84,349.18 520.35,348.81 522.85,348.48 525.36,348.20 527.86,347.98 530.37,347.82 532.87,347.73 535.38,347.70 537.88,347.75 540.38,347.86 542.89,348.04 545.39,348.27 547.90,348.57 550.40,348.91 552.91,349.30 555.41,349.73 557.92,350.20 560.42,350.69 562.93,351.21 565.43,351.75 567.94,352.31 570.45,352.89 572.95,353.48 575.46,354.09 577.96,354.70 580.47,355.33 582.97,355.97 585.48,356.61 587.98,357.26 590.49,357.92 592.99,358.58 595.50,359.24 598.00,359.92" fill="none" stroke="#aaa" stroke-width="0.9" stroke-dasharray="1 1.2"/>
<polyline points="506.30,347.02 509.53,347.82 512.75,348.62 515.98,349.42 519.21,350.22 522.44,351.01 525.66,351.79 528.89,352.57 532.12,353.33 535.35,354.09 538.58,354.84 541.80,355.58 545.03,356.30 548.26,357.01 551.49,357.70 554.71,358.37 557.94,359.02 561.17,359.65 564.39,360.24 567.62,360.81 570.85,361.35 574.08,361.86 577.30,362.34 580.53,362.79 583.76,363.21 586.99,363.61 590.22,363.99 593.44,364.34 596.67,364.68 599.90,365.00 603.12,365.31 606.35,365.61 609.58,365.90 612.81,366.17 616.03,366.44 619.26,366.71 622.49,366.96 625.72,367.21 628.94,367.46 632.17,367.70 635.40,367.94" fill="none" stroke="#aaa" stroke-width="0.9" stroke-dasharray="1 1.2"/>
<polyline points="506.30,361.78 509.53,362.02 512.75,362.27 515.98,362.51 519.21,362.76 522.44,363.02 525.66,363.28 528.89,363.55 532.12,363.83 535.35,364.11 538.58,364.41 541.80,364.71 545.03,365.04 548.26,365.37 551.49,365.73 554.71,366.10 557.94,366.50 561.17,366.92 564.39,367.37 567.62,367.84 570.85,368.35 574.08,368.89 577.30,369.45 580.53,370.05 583.76,370.67 586.99,371.31 590.22,371.98 593.44,372.67 596.67,373.38 599.90,374.10 603.12,374.84 606.35,375.58 609.58,376.34 612.81,377.11 616.03,377.89 619.26,378.67 622.49,379.46 625.72,380.25 628.94,381.05 632.17,381.85 635.40,382.66" fill="none" stroke="#aaa" stroke-width="0.9" stroke-dasharray="1 1.2"/>
<line x1="506.3" y1="354.4" x2="635.4" y2="375.3" stroke="#e0262a" stroke-width="1.5" />
<line x1="497.8" y1="340" x2="598" y2="340" stroke="#1818e0" stroke-width="1.6" />
<circle cx="538.4" cy="293.3" r="2.0" fill="#0000e6"/>
<circle cx="548.4" cy="290.7" r="2.0" fill="#0000e6"/>
<circle cx="510.6" cy="323.9" r="2.0" fill="#0000e6"/>
<circle cx="544.2" cy="320.9" r="2.0" fill="#0000e6"/>
<circle cx="501" cy="337" r="2.0" fill="#0000e6"/>
<circle cx="501" cy="340.2" r="2.0" fill="#0000e6"/>
<circle cx="501" cy="346.8" r="2.0" fill="#0000e6"/>
<circle cx="501" cy="350.5" r="2.0" fill="#0000e6"/>
<circle cx="513.8" cy="351.2" r="2.0" fill="#0000e6"/>
<circle cx="522.1" cy="347.9" r="2.0" fill="#0000e6"/>
<circle cx="527.5" cy="346.4" r="2.0" fill="#0000e6"/>
<circle cx="531.9" cy="345.2" r="2.0" fill="#0000e6"/>
<circle cx="541.7" cy="342.4" r="2.0" fill="#0000e6"/>
<circle cx="547.2" cy="347.9" r="2.0" fill="#0000e6"/>
<circle cx="553.4" cy="346.8" r="2.0" fill="#0000e6"/>
<circle cx="569.9" cy="331.3" r="2.0" fill="#0000e6"/>
<circle cx="598" cy="339.9" r="2.0" fill="#0000e6"/>
<circle cx="568.3" cy="344.1" r="2.0" fill="#0000e6"/>
<circle cx="577" cy="345.2" r="2.0" fill="#0000e6"/>
<circle cx="560.7" cy="360.1" r="2.0" fill="#0000e6"/>
<circle cx="564.2" cy="360.1" r="2.0" fill="#0000e6"/>
<circle cx="554.7" cy="334" r="2.0" fill="#ee3b3b"/>
<circle cx="555.9" cy="340.2" r="2.0" fill="#ee3b3b"/>
<circle cx="549.3" cy="343.2" r="2.0" fill="#ee3b3b"/>
<circle cx="557" cy="347" r="2.0" fill="#ee3b3b"/>
<circle cx="549" cy="352.7" r="2.0" fill="#ee3b3b"/>
<circle cx="536.9" cy="353.6" r="2.0" fill="#ee3b3b"/>
<circle cx="512.4" cy="355.3" r="2.0" fill="#ee3b3b"/>
<circle cx="523.6" cy="358" r="2.0" fill="#ee3b3b"/>
<circle cx="506.1" cy="366.5" r="2.0" fill="#ee3b3b"/>
<circle cx="542.2" cy="363.7" r="2.0" fill="#ee3b3b"/>
<circle cx="546.1" cy="367.2" r="2.0" fill="#ee3b3b"/>
<circle cx="555.6" cy="369" r="2.0" fill="#ee3b3b"/>
<circle cx="527.6" cy="373.6" r="2.0" fill="#ee3b3b"/>
<circle cx="535.5" cy="376.1" r="2.0" fill="#ee3b3b"/>
<circle cx="541.3" cy="376.1" r="2.0" fill="#ee3b3b"/>
<circle cx="545.4" cy="374.4" r="2.0" fill="#ee3b3b"/>
<circle cx="549" cy="377" r="2.0" fill="#ee3b3b"/>
<circle cx="553.4" cy="374.9" r="2.0" fill="#ee3b3b"/>
<circle cx="557" cy="355.9" r="2.0" fill="#ee3b3b"/>
<circle cx="554.7" cy="359.8" r="2.0" fill="#ee3b3b"/>
<circle cx="550" cy="342.9" r="2.0" fill="#ee3b3b"/>
<circle cx="589.5" cy="348.2" r="2.0" fill="#ee3b3b"/>
<circle cx="561.6" cy="351.8" r="2.0" fill="#ee3b3b"/>
<circle cx="565.1" cy="352.1" r="2.0" fill="#ee3b3b"/>
<circle cx="567.8" cy="352.1" r="2.0" fill="#ee3b3b"/>
<circle cx="579" cy="351.8" r="2.0" fill="#ee3b3b"/>
<circle cx="579" cy="353.6" r="2.0" fill="#ee3b3b"/>
<circle cx="592.7" cy="354.4" r="2.0" fill="#ee3b3b"/>
<circle cx="583.2" cy="357.1" r="2.0" fill="#ee3b3b"/>
<circle cx="587.3" cy="357.1" r="2.0" fill="#ee3b3b"/>
<circle cx="555.3" cy="355.3" r="2.0" fill="#ee3b3b"/>
<circle cx="558" cy="356.2" r="2.0" fill="#ee3b3b"/>
<circle cx="567.8" cy="365.1" r="2.0" fill="#ee3b3b"/>
<circle cx="570.4" cy="365.6" r="2.0" fill="#ee3b3b"/>
<circle cx="572.2" cy="366.5" r="2.0" fill="#ee3b3b"/>
<circle cx="597.1" cy="365.1" r="2.0" fill="#ee3b3b"/>
<circle cx="597.1" cy="368.7" r="2.0" fill="#ee3b3b"/>
<circle cx="579.9" cy="369.6" r="2.0" fill="#ee3b3b"/>
<circle cx="592.7" cy="370.1" r="2.0" fill="#ee3b3b"/>
<circle cx="556.2" cy="369" r="2.0" fill="#ee3b3b"/>
<circle cx="553.6" cy="374.9" r="2.0" fill="#ee3b3b"/>
<circle cx="568.3" cy="375.4" r="2.0" fill="#ee3b3b"/>
<circle cx="564.2" cy="377.9" r="2.0" fill="#ee3b3b"/>
<circle cx="577.6" cy="374" r="2.0" fill="#ee3b3b"/>
<circle cx="577.6" cy="378.4" r="2.0" fill="#ee3b3b"/>
<circle cx="591.2" cy="374.9" r="2.0" fill="#ee3b3b"/>
<circle cx="587.9" cy="379.7" r="2.0" fill="#ee3b3b"/>
<circle cx="598" cy="376.7" r="2.0" fill="#ee3b3b"/>
<circle cx="604.8" cy="379.3" r="2.0" fill="#ee3b3b"/>
<circle cx="610.4" cy="376.7" r="2.0" fill="#ee3b3b"/>
<circle cx="611" cy="380.2" r="2.0" fill="#ee3b3b"/>
<circle cx="617.2" cy="372.6" r="2.0" fill="#ee3b3b"/>
<circle cx="625.6" cy="378.4" r="2.0" fill="#ee3b3b"/>
<circle cx="628.2" cy="377.2" r="2.0" fill="#ee3b3b"/>
<circle cx="636" cy="382.7" r="2.0" fill="#ee3b3b"/>
<circle cx="629.1" cy="377" r="2.0" fill="#ee3b3b"/>
<circle cx="592.5" cy="354.4" r="2.0" fill="#ee3b3b"/>
<circle cx="590" cy="348.5" r="2.0" fill="#ee3b3b"/>
<circle cx="592.1" cy="375.3" r="2.0" fill="#ee3b3b"/>
<circle cx="593.2" cy="370" r="2.0" fill="#ee3b3b"/>
<circle cx="597" cy="365.4" r="2.0" fill="#ee3b3b"/>
<line x1="593.2" y1="262.0" x2="607.5" y2="262.0" stroke="#e84a4a" stroke-width="1.3" />
<circle cx="600.4000000000001" cy="262.0" r="2.0" fill="#e84a4a"/>
<line x1="593.2" y1="279.6" x2="607.5" y2="279.6" stroke="#2a2ae6" stroke-width="1.3" />
<circle cx="600.4000000000001" cy="279.6" r="2.0" fill="#0000e6"/>
<text x="615.7" y="265.8" font-size="10.7" font-weight="bold" text-anchor="start" fill="#111" stroke="#111" stroke-width="0.3" >YWHV</text>
<text x="615.7" y="283.40000000000003" font-size="10.7" font-weight="bold" text-anchor="start" fill="#111" stroke="#111" stroke-width="0.3" >HD</text>
<text x="500.3" y="277.8" font-size="11" font-weight="normal" text-anchor="start" fill="#3b3bd6" stroke="#3b3bd6" stroke-width="0.15" >r=.02</text>
<text x="500.3" y="290.2" font-size="11" font-weight="normal" text-anchor="start" fill="#3b3bd6" stroke="#3b3bd6" stroke-width="0.15" >p=.89</text>
<text x="617.0" y="342.9" font-size="11" font-weight="normal" text-anchor="start" fill="#e05555" stroke="#e05555" stroke-width="0.15" >r=-.37</text>
<text x="617.0" y="354.9" font-size="11" font-weight="normal" text-anchor="start" fill="#e05555" stroke="#e05555" stroke-width="0.15" >p=<tspan font-weight="bold">.0047</tspan></text>
<text transform="translate(455.4,327.4) rotate(-90)" font-size="10.9" font-weight="bold" text-anchor="middle" fill="#111" stroke="#111" stroke-width="0.3">CD4/CD8 ratio</text>
<text x="563.2" y="424.6" font-size="10.8" font-weight="bold" text-anchor="middle" fill="#111" stroke="#111" stroke-width="0.3">TTV load (log<tspan font-size="8.64" dy="2.4">10</tspan><tspan dy="-2.4"> copies/ml)</tspan></text>
</svg></body></html>
